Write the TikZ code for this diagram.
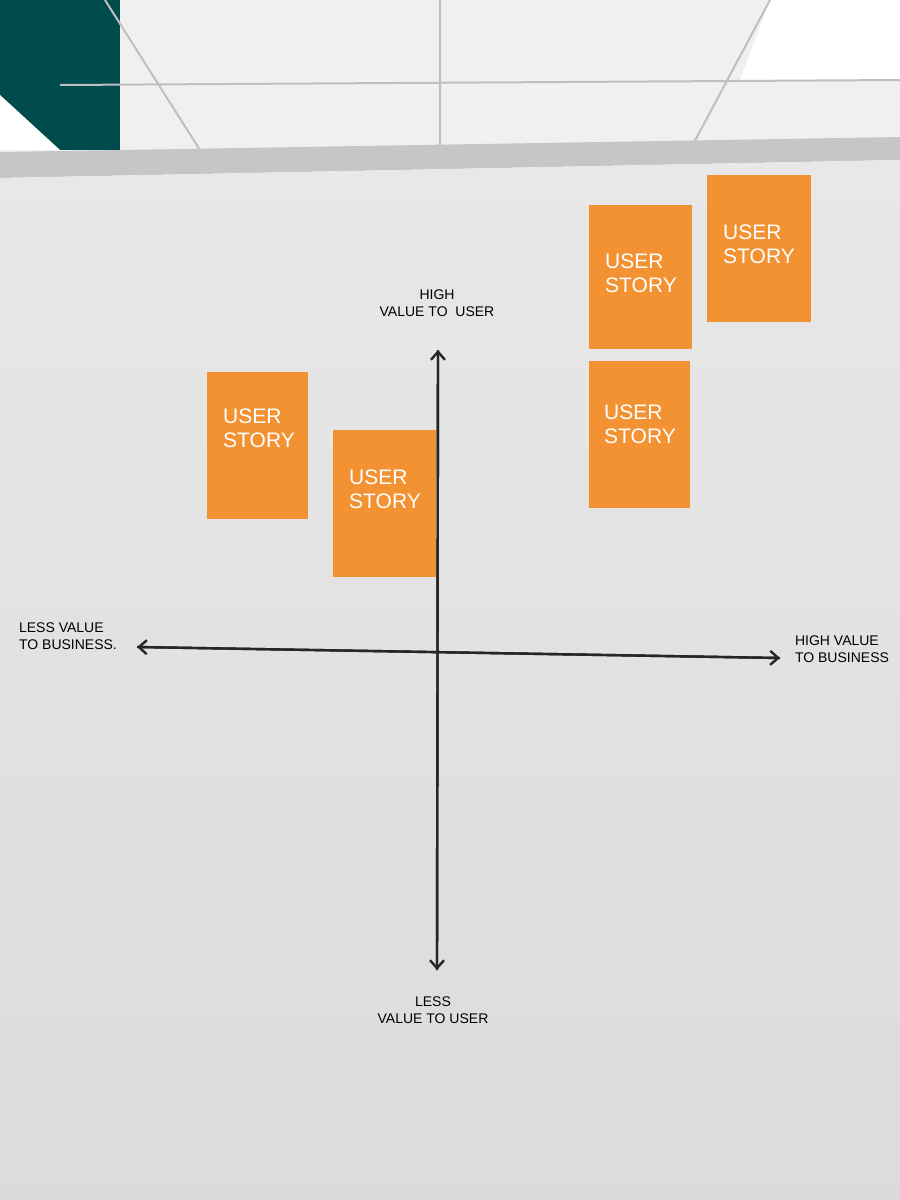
\documentclass[tikz,border=0pt]{standalone}
\usepackage{fontspec}
\usetikzlibrary{arrows.meta}
\setmainfont{Liberation Sans}
\definecolor{sticky}{HTML}{F39232}
\begin{document}
\begin{tikzpicture}[x=1pt,y=-1pt,
  note/.style={fill=sticky, draw=none},
  notetext/.style={text=white,font=\fontsize{21}{24}\selectfont,align=left},
  hand/.style={font=\fontsize{14}{17}\selectfont,align=left},
  ax/.style={line width=2.4pt,black!85,-{Straight Barb[length=8pt,width=14pt]}}]
\useasboundingbox (0,0) rectangle (900,1200);
% ceiling
\fill[gray!12] (0,0) rectangle (900,160);
\fill[teal!60!black] (0,0) -- (120,0) -- (120,150) -- (0,150) -- cycle;
\fill[white] (0,95) -- (60,150) -- (0,150) -- cycle;
\fill[white] (770,0) -- (900,0) -- (900,80) -- (740,80) -- cycle;
\draw[gray!50,line width=2pt] (105,0) -- (200,150) (440,0) -- (440,150) (770,0) -- (690,150)
  (60,85) -- (900,80);
% whiteboard frame
\fill[gray!45] (0,152) -- (900,137) -- (900,160) -- (0,178) -- cycle;
% board
\shade[top color=gray!18, bottom color=gray!28] (0,178) -- (900,160) -- (900,1200) -- (0,1200) -- cycle;
% axes
\coordinate (top) at (438,350);
\coordinate (bot) at (437,970);
\coordinate (lft) at (137,647);
\coordinate (rgt) at (780,658);
\draw[ax] (bot) -- (top);
\draw[ax] (top) -- (bot);
\draw[ax] (rgt) -- (lft);
\draw[ax] (lft) -- (rgt);
% labels
\node[hand,align=center] (hu) at (437,303) {HIGH\\VALUE TO~~USER};
\node[hand,align=center] (lu) at (433,1010) {LESS\\VALUE TO USER};
\node[hand] (lb) at (68,636) {LESS VALUE\\TO BUSINESS.};
\node[hand] (hb) at (842,649) {HIGH VALUE\\TO BUSINESS};
% notes
\fill[note] (207,372) rectangle (308,519);
\node[notetext] (n1) at (259,428) {USER\\STORY};
\fill[note] (333,430) rectangle (436,577);
\node[notetext] (n2) at (385,489) {USER\\STORY};
\fill[note] (589,205) rectangle (692,349);
\node[notetext] (n3) at (641,273) {USER\\STORY};
\fill[note] (707,175) rectangle (811,322);
\node[notetext] (n4) at (759,244) {USER\\STORY};
\fill[note] (589,361) rectangle (690,508);
\node[notetext] (n5) at (640,424) {USER\\STORY};
\end{tikzpicture}
\end{document}
